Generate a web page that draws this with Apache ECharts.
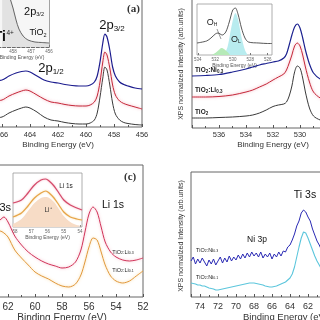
<!DOCTYPE html>
<html>
<head>
<meta charset="utf-8">
<script src="https://cdn.jsdelivr.net/npm/echarts@6/dist/echarts.min.js"></script>
<style>
  html, body { margin: 0; padding: 0; background: #fff; }
  #chart { width: 320px; height: 320px; }
</style>
</head>
<body>
<div id="chart"></div>
<script>
// (a) Ti 2p
const aEnergy = [467, 466, 465.5, 465, 464.6, 464.3, 464, 463.5, 463, 462.5, 462, 461.5, 461, 460.5, 460, 459.7, 459.4, 459.2, 459, 458.8, 458.65, 458.5, 458.3, 458.1, 457.9, 457.6, 457.3, 457, 456.5, 456];
const aTiO2 = [8, 10, 14, 17, 19, 20, 19, 15, 10, 7, 6, 4.5, 3.5, 3, 3, 4, 7, 14, 30, 49, 60, 57, 42, 24, 13, 7, 4.5, 3.5, 2.5, 2];
const aLi = [25, 27, 31, 34, 36, 37, 36, 32, 28, 25, 24, 22.5, 21.5, 21, 21, 22, 25, 31, 45, 65, 75, 72, 59, 42, 32, 26, 23.5, 22, 20, 18];
const aNi = [45, 47, 51, 54, 55.5, 56, 55, 51, 47, 45, 44, 42.5, 41.5, 41, 41, 42, 45, 51, 65, 84, 93, 90, 77, 60, 51, 45, 42.5, 41, 39, 38];
const aInsetEnergy = [458.6, 458.17, 458.0, 457.83, 457.67, 457.44, 457.17, 456.78, 456.4, 456];
const aInset = [75, 49, 39, 27, 18, 11, 7, 5, 4.5, 4];
const aInsetTicks = [456, 457, 458];

// (b) O 1s
const bEnergy = [538, 537, 536, 535, 534, 533.5, 533, 532.5, 532, 531.6, 531.2, 531, 530.8, 530.6, 530.4, 530.2, 530, 529.8, 529.6, 529.3, 529, 528.5, 528, 527];
const bTiO2 = [10, 10, 10.5, 11, 12, 13, 15, 18, 21.5, 23, 24, 26, 32, 42, 56, 62, 60, 50, 36, 20, 12, 8, 7, 6];
const bLi = [31, 31, 31.5, 33, 36, 38, 41, 44, 48, 51, 54, 58, 65, 73, 82, 85, 82, 73, 61, 46, 36, 30, 28, 27];
const bNi = [52, 52.5, 53.5, 56, 59, 61, 63, 64.5, 66, 67, 70, 74, 83, 93, 101, 104, 100, 90, 78, 64, 55, 49, 47, 46];
const bInsetEnergy = [534.1, 533, 532.5, 532, 531.7, 531.2, 530.8, 530.4, 530.0, 529.7, 529.4, 529.0, 528.6, 528.2, 527, 526, 525.5];
const bInset = [12, 14, 17, 21, 22, 20, 23, 33, 45, 47, 41, 27, 17, 13, 12, 11.5, 11.5];
const bLatticeEnergy = [531.0, 530.6, 530.2, 529.9, 529.7, 529.4, 529.0, 528.6, 528.3];
const bLattice = [0, 8, 26, 38, 42, 36, 18, 5, 0];
const bHydroxylEnergy = [532.4, 532.0, 531.6, 531.3, 531.0, 530.6, 530.3];
const bHydroxyl = [0, 2, 5, 7, 6, 3, 0];
const bInsetTicks = [526, 528, 530, 532, 534];

// (c) Li 1s
const cEnergy = [64, 63, 62.6, 62.3, 62, 61.5, 61, 60.5, 60, 59.5, 59, 58.5, 58, 57.5, 57, 56.6, 56.3, 56, 55.7, 55.4, 55.1, 54.8, 54.4, 54, 53.5, 53, 52.5, 52];
const cLi3 = [70, 75, 77, 80, 75, 61, 52, 45, 40, 36, 33, 31, 29, 30, 35, 47, 65, 83, 90, 85, 70, 55, 45, 40, 37, 36, 37, 39];
const cLi1 = [62, 65, 66, 64, 60, 47, 39, 32, 25, 21, 18, 14, 11, 10, 13, 22, 35, 50, 59, 57, 45, 32, 21, 16, 14, 16, 21, 26];
const cInsetEnergy = [58.12, 57.6, 57.2, 56.8, 56.4, 56.1, 55.9, 55.6, 55.3, 55.0, 54.6, 54.2, 53.88];
const cInsetLi3 = [24, 27, 34, 42, 47, 48, 46, 41, 34, 27, 22, 19, 17];
const cInsetLi1 = [10, 14, 21, 29, 34, 36, 34, 29, 22, 15, 10, 8, 7];
const cInsetFit = [3, 8, 16, 24, 29, 30, 29, 25, 18, 11, 5, 2, 1];
const cInsetTicks = [54, 55, 56, 57, 58];

// (d) Ti 3s / Ni 3p
const dEnergy = [75, 74.75, 74.5, 74.25, 74, 73.75, 73.5, 73.25, 73, 72.75, 72.5, 72.25, 72, 71.75, 71.5, 71.25, 71, 70.75, 70.5, 70.25,
  70, 69.75, 69.5, 69.25, 69, 68.75, 68.5, 68.25, 68, 67.75, 67.5, 67.25, 67, 66.75, 66.5, 66.25, 66, 65.75, 65.5, 65.25,
  65, 64.75, 64.5, 64.25, 64, 63.75, 63.5, 63.25, 63, 62.75, 62.5, 62.25, 62, 61.75, 61.5, 61.25, 61, 60.75, 60.5, 60.25,
  60, 59.5, 59, 58.5, 58];
const dNi3 = [36, 40, 33, 38, 34, 39, 35, 31, 37, 33, 38, 32, 36, 40, 34, 39, 35, 41, 36, 40,
  37, 42, 38, 43, 39, 44, 40, 45, 41, 44, 40, 45, 39, 43, 40, 44, 38, 43, 40, 45,
  41, 46, 45, 50, 52, 57, 63, 71, 76, 84, 87, 85, 80, 76, 68, 62, 56, 52, 47, 44,
  40, 36, 33, 31, 30];
const dNi1 = [14, 13.5, 13, 12, 12, 11, 11, 10, 9, 8.5, 8, 7, 7, 7.5, 8, 8.5, 9, 9.5, 10, 10.5,
  11, 11.5, 12, 12.5, 13, 13.5, 14, 14, 14, 13.5, 13, 12.5, 12, 11, 10.5, 10, 10, 10.5, 11, 12,
  13, 14, 15, 17, 19, 23, 30, 40, 50, 59, 65, 64, 59, 53, 47, 41, 36, 32, 28, 25,
  23, 20, 18, 17, 16];

const FONT = 'Arial, "Liberation Sans", sans-serif';
const chart = echarts.init(document.getElementById('chart'));

const pair = (xs, ys) => xs.map((x, i) => [x, ys[i]]);

function line(idx, xs, ys, color, width, extra) {
  return Object.assign({
    type: 'line', xAxisIndex: idx, yAxisIndex: idx,
    data: pair(xs, ys), showSymbol: false, smooth: 0.3,
    lineStyle: { color: color, width: width }, silent: true, z: 3
  }, extra || {});
}

function mainX(gi, min, max, interval, fs, margin, nameGap, nameFs) {
  return {
    gridIndex: gi, type: 'value', inverse: true, min: min, max: max, interval: interval,
    name: 'Binding Energy (eV)', nameLocation: 'middle', nameGap: nameGap,
    nameTextStyle: { fontSize: nameFs, color: '#333', fontFamily: FONT },
    axisLine: { show: false },
    axisTick: { inside: true, length: 3, lineStyle: { color: '#555' } },
    minorTick: { show: true, splitNumber: 2, length: 2, lineStyle: { color: '#555' } },
    axisLabel: { fontSize: fs, color: '#333', margin: margin, fontFamily: FONT, showMaxLabel: false },
    splitLine: { show: false }
  };
}

function insetX(gi, min, max, ticks, dashed) {
  return {
    gridIndex: gi, type: 'value', inverse: true, min: min, max: max,
    name: 'Binding Energy (eV)', nameLocation: 'middle', nameGap: 6,
    nameTextStyle: { fontSize: 5, color: '#555', fontFamily: FONT },
    axisLine: { show: !!dashed, lineStyle: { color: '#444', type: 'dashed', width: 0.8 } },
    axisTick: { inside: true, length: 2, customValues: ticks, lineStyle: { color: '#777' } },
    axisLabel: { fontSize: 4.5, color: '#666', margin: 2, fontFamily: FONT, customValues: ticks },
    splitLine: { show: false }
  };
}

function hiddenY(gi, max, extra) {
  return Object.assign({
    gridIndex: gi, type: 'value', min: 0, max: max,
    axisLine: { show: false }, axisTick: { show: false },
    axisLabel: { show: false }, splitLine: { show: false }
  }, extra || {});
}

const frame = { show: true, borderColor: '#666', borderWidth: 1, backgroundColor: 'transparent', outerBoundsMode: 'none', containLabel: false };
const insetFrame = { show: true, borderColor: '#9a9a9a', borderWidth: 0.8, backgroundColor: '#fff', outerBoundsMode: 'none', containLabel: false };

function sub(t) { return '{s|' + t + '}'; }

const option = {
  animation: false,
  grid: [
    Object.assign({ left: -26, top: -13, width: 168, height: 140 }, frame),
    { left: -5, top: -3, width: 54, height: 50, show: true, borderWidth: 0, backgroundColor: '#f6f6f6', outerBoundsMode: 'none', containLabel: false },
    Object.assign({ left: 192, top: -13, width: 162, height: 141 }, frame),
    Object.assign({ left: 197, top: 4, width: 75, height: 51 }, insetFrame),
    Object.assign({ left: -19, top: 165, width: 162, height: 132 }, frame),
    Object.assign({ left: 13, top: 173, width: 69, height: 54 }, insetFrame),
    Object.assign({ left: 191, top: 172, width: 189, height: 125 }, frame)
  ],
  xAxis: [
    mainX(0, 456, 468, 2, 7.5, 4, 14, 8),
    insetX(1, 456, 459, aInsetTicks, true),
    mainX(2, 526, 538, 2, 7.5, 3, 13, 8),
    insetX(3, 525.5, 534.1, bInsetTicks, false),
    mainX(4, 52, 64, 2, 10, 5, 12, 10),
    insetX(5, 53.88, 58.12, cInsetTicks, false),
    mainX(6, 54, 75, 2, 9, 5, 12, 9.5)
  ],
  yAxis: [
    hiddenY(0, 140),
    hiddenY(1, 50, { position: 'right', axisLine: { show: true, onZero: false, lineStyle: { color: '#8a8a8a', width: 0.8 } } }),
    hiddenY(2, 141),
    hiddenY(3, 51),
    hiddenY(4, 132),
    hiddenY(5, 54),
    hiddenY(6, 125)
  ],
  series: [
    // (a)
    line(0, aEnergy, aTiO2, '#3a3a3a', 1),
    line(0, aEnergy, aLi, '#c4283a', 1, { lineStyle: { color: '#c4283a', width: 1, shadowColor: 'rgba(235,120,140,0.7)', shadowBlur: 3 } }),
    line(0, aEnergy, aNi, '#1c1c8e', 1.2),
    line(1, aInsetEnergy, aInset, '#555', 0.9, { areaStyle: { color: '#e2e2e2', opacity: 1 } }),
    // (b)
    line(2, bEnergy, bTiO2, '#3a3a3a', 1),
    line(2, bEnergy, bLi, '#c4283a', 1, { lineStyle: { color: '#c4283a', width: 1, shadowColor: 'rgba(235,120,140,0.7)', shadowBlur: 3 } }),
    line(2, bEnergy, bNi, '#1c2290', 1.2),
    line(3, bLatticeEnergy, bLattice, 'rgba(0,0,0,0)', 0, { areaStyle: { color: '#b8ecef', opacity: 1 }, z: 2 }),
    line(3, bHydroxylEnergy, bHydroxyl, 'rgba(0,0,0,0)', 0, { areaStyle: { color: '#b6eab8', opacity: 1 }, z: 2 }),
    line(3, bInsetEnergy, bInset, '#444', 0.9),
    // (c)
    line(4, cEnergy, cLi3, '#d0345a', 1, { lineStyle: { color: '#d0345a', width: 1, shadowColor: 'rgba(240,140,160,0.7)', shadowBlur: 3 } }),
    line(4, cEnergy, cLi1, '#e0983c', 1, { lineStyle: { color: '#e0983c', width: 1, shadowColor: 'rgba(245,200,120,0.8)', shadowBlur: 3 } }),
    line(5, cInsetEnergy, cInsetFit, 'rgba(0,0,0,0)', 0, { areaStyle: { color: '#f7dcc6', opacity: 1 }, z: 2 }),
    line(5, cInsetEnergy, cInsetLi3, '#d44a6a', 1.2, { lineStyle: { color: '#d44a6a', width: 1.2, shadowColor: 'rgba(240,150,170,0.8)', shadowBlur: 2 } }),
    line(5, cInsetEnergy, cInsetLi1, '#e6a448', 1.2, { lineStyle: { color: '#e6a448', width: 1.2, shadowColor: 'rgba(245,205,130,0.8)', shadowBlur: 2 } }),
    // (d)
    line(6, dEnergy, dNi3, '#2a2ab4', 1, { smooth: false }),
    line(6, dEnergy, dNi1, '#5cc6dc', 1.1, { smooth: false })
  ],
  graphic: [
    // (a)
    { type: 'text', left: 127, top: 4, style: { text: '(a)', fontSize: 11, fontWeight: 'bold', fill: '#333', fontFamily: '"Liberation Serif", "DejaVu Serif", serif' } },
    { type: 'text', x: 112, y: 25, style: { text: '2p' + sub('3/2'), fontSize: 13, fill: '#111', fontFamily: FONT, align: 'center', verticalAlign: 'middle', rich: { s: { fontSize: 8, padding: [7, 0, 0, 0], fill: '#111' } } } },
    { type: 'text', x: 51, y: 68, style: { text: '2p' + sub('1/2'), fontSize: 13, fill: '#111', fontFamily: FONT, align: 'center', verticalAlign: 'middle', rich: { s: { fontSize: 8, padding: [7, 0, 0, 0], fill: '#111' } } } },
    { type: 'text', x: 34, y: 12, z: 10, style: { text: '2p' + sub('3/2'), fontSize: 11, fill: '#111', fontFamily: FONT, align: 'center', verticalAlign: 'middle', rich: { s: { fontSize: 5.5, padding: [5, 0, 0, 0], fill: '#111' } } } },
    { type: 'text', x: 38, y: 33, z: 10, style: { text: 'TiO' + sub('2'), fontSize: 9, fill: '#111', fontFamily: FONT, align: 'center', verticalAlign: 'middle', rich: { s: { fontSize: 5.5, padding: [4, 0, 0, 0], fill: '#111' } } } },
    { type: 'text', x: 6, y: 37, z: 10, style: { text: 'Ti', fontSize: 14, fontWeight: 'bold', fill: '#111', fontFamily: FONT, align: 'right', verticalAlign: 'middle' } },
    { type: 'text', x: 6.5, y: 33, z: 10, style: { text: '4+', fontSize: 6.5, fill: '#222', fontFamily: FONT, align: 'left', verticalAlign: 'middle' } },
    // (b)
    { type: 'text', x: 181, y: 64, rotation: Math.PI / 2, style: { text: 'XPS normalized Intensity (arb.units)', fontSize: 7, fill: '#333', fontFamily: FONT, align: 'center', verticalAlign: 'middle' } },
    { type: 'text', x: 195, y: 70, style: { text: 'TiO' + sub('2') + ':Ni' + sub('0.3'), fontSize: 6.5, fontWeight: 'bold', fill: '#222', fontFamily: FONT, verticalAlign: 'middle', rich: { s: { fontSize: 4.5, fontWeight: 'bold', padding: [3, 0, 0, 0], fill: '#222' } } } },
    { type: 'text', x: 195, y: 90, style: { text: 'TiO' + sub('2') + ':Li' + sub('0.3'), fontSize: 6.5, fontWeight: 'bold', fill: '#222', fontFamily: FONT, verticalAlign: 'middle', rich: { s: { fontSize: 4.5, fontWeight: 'bold', padding: [3, 0, 0, 0], fill: '#222' } } } },
    { type: 'text', x: 195, y: 112, style: { text: 'TiO' + sub('2'), fontSize: 6.5, fontWeight: 'bold', fill: '#222', fontFamily: FONT, verticalAlign: 'middle', rich: { s: { fontSize: 4.5, fontWeight: 'bold', padding: [3, 0, 0, 0], fill: '#222' } } } },
    { type: 'text', x: 212, y: 23, z: 10, style: { text: 'O' + sub('H'), fontSize: 9, fill: '#222', fontFamily: FONT, align: 'center', verticalAlign: 'middle', rich: { s: { fontSize: 5, padding: [4, 0, 0, 0], fill: '#222' } } } },
    { type: 'line', z: 10, shape: { x1: 217, y1: 29, x2: 221, y2: 39 }, style: { stroke: '#555', lineWidth: 0.6 } },
    { type: 'text', x: 236, y: 40, z: 10, style: { text: 'O' + sub('L'), fontSize: 9, fill: '#222', fontFamily: FONT, align: 'center', verticalAlign: 'middle', rich: { s: { fontSize: 5, padding: [4, 0, 0, 0], fill: '#222' } } } },
    // (c)
    { type: 'text', left: 124, top: 172, style: { text: '(c)', fontSize: 11, fontWeight: 'bold', fill: '#333', fontFamily: '"Liberation Serif", "DejaVu Serif", serif' } },
    { type: 'text', x: 11, y: 208, style: { text: 'Ti 3s', fontSize: 11, fill: '#111', fontFamily: FONT, align: 'right', verticalAlign: 'middle' } },
    { type: 'text', x: 113, y: 205, style: { text: 'Li 1s', fontSize: 10.5, fill: '#111', fontFamily: FONT, align: 'center', verticalAlign: 'middle' } },
    { type: 'text', x: 123, y: 252, style: { text: 'TiO' + sub('2') + ':Li' + sub('0.3'), fontSize: 5.5, fill: '#222', fontFamily: FONT, align: 'center', verticalAlign: 'middle', rich: { s: { fontSize: 3.5, padding: [3, 0, 0, 0], fill: '#222' } } } },
    { type: 'text', x: 123, y: 270, style: { text: 'TiO' + sub('2') + ':Li' + sub('0.1'), fontSize: 5.5, fill: '#222', fontFamily: FONT, align: 'center', verticalAlign: 'middle', rich: { s: { fontSize: 3.5, padding: [3, 0, 0, 0], fill: '#222' } } } },
    { type: 'text', x: 66, y: 186, z: 10, style: { text: 'Li 1s', fontSize: 6.5, fill: '#222', fontFamily: FONT, align: 'center', verticalAlign: 'middle' } },
    { type: 'text', x: 48, y: 210, z: 10, style: { text: 'Li\u207A', fontSize: 6.5, fill: '#333', fontFamily: FONT, align: 'center', verticalAlign: 'middle' } },
    // (d)
    { type: 'text', x: 181, y: 236, rotation: Math.PI / 2, style: { text: 'XPS normalized Intensity (arb.units)', fontSize: 7, fill: '#333', fontFamily: FONT, align: 'center', verticalAlign: 'middle' } },
    { type: 'text', x: 305, y: 195, style: { text: 'Ti 3s', fontSize: 10.5, fill: '#111', fontFamily: FONT, align: 'center', verticalAlign: 'middle' } },
    { type: 'text', x: 257, y: 240, style: { text: 'Ni 3p', fontSize: 8.5, fill: '#111', fontFamily: FONT, align: 'center', verticalAlign: 'middle' } },
    { type: 'text', x: 196, y: 250, style: { text: 'TiO' + sub('2') + ':Ni' + sub('0.3'), fontSize: 5.5, fill: '#222', fontFamily: FONT, verticalAlign: 'middle', rich: { s: { fontSize: 3.5, padding: [3, 0, 0, 0], fill: '#222' } } } },
    { type: 'text', x: 196, y: 277, style: { text: 'TiO' + sub('2') + ':Ni' + sub('0.1'), fontSize: 5.5, fill: '#222', fontFamily: FONT, verticalAlign: 'middle', rich: { s: { fontSize: 3.5, padding: [3, 0, 0, 0], fill: '#222' } } } }
  ]
};

chart.setOption(option);
</script>
</body>
</html>
